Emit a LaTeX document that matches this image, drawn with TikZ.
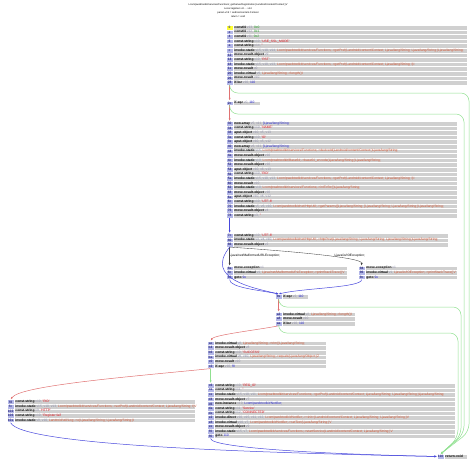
\documentclass[tikz,border=0pt]{standalone}
\usepackage{fontspec}
\setmainfont{Liberation Sans}
\usetikzlibrary{calc,arrows.meta}
\definecolor{rowgray}{HTML}{D0D0D0}
\definecolor{idxblue}{HTML}{B4B8E8}
\definecolor{idxtext}{HTML}{26267A}
\definecolor{hlyellow}{HTML}{FFFF33}
\definecolor{regx}{HTML}{8A8AA6}
\definecolor{strx}{HTML}{E01018}
\definecolor{methx}{HTML}{D2502C}
\definecolor{litx}{HTML}{22A022}
\definecolor{typx}{HTML}{2424D0}
\definecolor{edgegreen}{HTML}{90E090}
\definecolor{edgered}{HTML}{E07272}
\definecolor{edgeblue}{HTML}{4848DC}
\newcommand{\cfgfont}{\fontsize{3.3}{3.6}\selectfont}
\newcommand{\cop}[1]{\textbf{#1}}
\newcommand{\creg}[1]{\textcolor{regx}{#1}}
\newcommand{\clit}[1]{\textcolor{litx}{#1}}
\newcommand{\cstr}[1]{\textcolor{strx}{#1}}
\newcommand{\cmeth}[1]{\textcolor{methx}{#1}}
\newcommand{\ctyp}[1]{\textcolor{typx}{#1}}
\newcommand{\ctgt}[1]{\textcolor{typx}{#1}}
\tikzset{
  idxcell/.style={fill=idxblue,draw=white,line width=0.3pt,minimum width=7pt,minimum height=4.6pt,
    inner sep=0pt,font=\cfgfont\bfseries,text=idxtext,anchor=north west},
  codecell/.style={fill=rowgray,draw=white,line width=0.3pt,inner xsep=1pt,inner ysep=0pt,
    minimum height=4.6pt,text height=2.4pt,text depth=0.7pt,font=\cfgfont,anchor=north west},
  titlenode/.style={align=center,font=\fontsize{2.5}{3.9}\selectfont,inner sep=0pt},
  exclabel/.style={font=\fontsize{3.2}{3.5}\selectfont,inner sep=0.5pt,anchor=west},
  cfgedge/.style={-{Latex[length=2.6pt,width=2pt]},line width=0.5pt},
  tedge/.style={cfgedge,edgegreen},
  fedge/.style={cfgedge,edgered},
  uedge/.style={cfgedge,edgeblue},
  xedge/.style={cfgedge,black!75,line width=0.35pt}
}
% one basic block: name, left x, top y, width, rows index/text
\newcommand{\cfgblock}[5]{%
  \pgfmathsetmacro{\cw}{#4-9}
  \foreach [count=\n] \ix/\tx in {#5}{
    \node[idxcell] (#1-\n) at (#2,{-#3-(\n-1)*4.6}) {\ix};
    \node[codecell] (#1-\n-code) at (#1-\n.north east) {\makebox[\cw pt][l]{\tx}};
  }
}

\begin{document}
\begin{tikzpicture}[x=1pt,y=1pt]
\useasboundingbox (0,0) rectangle (474,-467);
\node[titlenode] (title) at (238,-10.9) {Lcom/pwebtoolkit/services/Functions; getServerRegistration (Landroid/content/Context;)V\\
  Local registers v0 ... v14\\ param v15 = android.content.Context\\ return = void};

% basic blocks
\cfgblock{b1}{226}{25}{241}{
  0/{\cop{const/4} \creg{v13,} \clit{0x0}},
  2/{\cop{const/4} \creg{v12,} \clit{0x1}},
  4/{\cop{const/4} \creg{v11,} \clit{0x2}},
  6/{\cop{const-string} \creg{v10,} \cstr{'USE\_SSL\_MODE'}},
  a/{\cop{const-string} \creg{v14,} \cstr{''}},
  c/{\cop{invoke-static} \creg{v15, v10, v14,} \cmeth{Lcom/pwebtoolkit/services/Functions;->getPref(Landroid/content/Context; Ljava/lang/String; Ljava/lang/String;)Ljava/lang/String;}},
  12/{\cop{move-result-object} \creg{v9}},
  14/{\cop{const-string} \creg{v10,} \cstr{'RST'}},
  18/{\cop{invoke-static} \creg{v15, v10, v13,} \cmeth{Lcom/pwebtoolkit/services/Functions;->getPref(Landroid/content/Context; Ljava/lang/String; I)I}},
  1e/{\cop{move-result} \creg{v0}},
  20/{\cop{invoke-virtual} \creg{v9,} \cmeth{Ljava/lang/String;->length()I}},
  26/{\cop{move-result} \creg{v10}},
  28/{\cop{if-lez} \creg{v10,} \ctgt{110}}}
\node[idxcell,fill=hlyellow] (b1-first) at (b1-1.north west) {0};
\cfgblock{b2}{226}{100.5}{34}{
  2c/{\cop{if-eqz} \creg{v0,} \ctgt{110}}}
\cfgblock{b3}{226}{121}{231}{
  30/{\cop{new-array} \creg{v5, v11,} \ctyp{[Ljava/lang/String;}},
  34/{\cop{const-string} \creg{v10,} \cstr{'NAME'}},
  38/{\cop{aput-object} \creg{v10, v5, v13}},
  3a/{\cop{const-string} \creg{v10,} \cstr{'ID'}},
  3e/{\cop{aput-object} \creg{v10, v5, v12}},
  40/{\cop{new-array} \creg{v6, v11,} \ctyp{[Ljava/lang/String;}},
  44/{\cop{invoke-static} \creg{v15,} \cmeth{Lcom/pwebtoolkit/services/Functions;->deviceId(Landroid/content/Context;)Ljava/lang/String;}},
  4a/{\cop{move-result-object} \creg{v10}},
  4c/{\cop{invoke-static} \creg{v10,} \cmeth{Lcom/pwebtoolkit/Base64;->base64\_encode(Ljava/lang/String;)Ljava/lang/String;}},
  52/{\cop{move-result-object} \creg{v10}},
  54/{\cop{aput-object} \creg{v10, v6, v13}},
  56/{\cop{const-string} \creg{v10,} \cstr{'RID'}},
  5a/{\cop{invoke-static} \creg{v15, v10, v13,} \cmeth{Lcom/pwebtoolkit/services/Functions;->getPref(Landroid/content/Context; Ljava/lang/String; I)I}},
  60/{\cop{move-result} \creg{v10}},
  62/{\cop{invoke-static} \creg{v10,} \cmeth{Lcom/pwebtoolkit/services/Functions;->intToStr(I)Ljava/lang/String;}},
  68/{\cop{move-result-object} \creg{v10}},
  6a/{\cop{aput-object} \creg{v10, v6, v12}},
  6c/{\cop{const-string} \creg{v10,} \cstr{'UTF-8'}},
  70/{\cop{invoke-static} \creg{v5, v6, v10,} \cmeth{Lcom/pwebtoolkit/net/HttpUtil;->getParams([Ljava/lang/String; [Ljava/lang/String; Ljava/lang/String;)Ljava/lang/String;}},
  76/{\cop{move-result-object} \creg{v4}},
  78/{\cop{const-string} \creg{v3,} \cstr{''}}}
\cfgblock{b4}{226}{233}{222}{
  7c/{\cop{const-string} \creg{v10,} \cstr{'UTF-8'}},
  80/{\cop{invoke-static} \creg{v3, v4, v10,} \cmeth{Lcom/pwebtoolkit/net/HttpUtil;->httpPost(Ljava/lang/String; Ljava/lang/String; Ljava/lang/String;)Ljava/lang/String;}},
  86/{\cop{move-result-object} \creg{v2}}}
\cfgblock{bmal}{226}{265.5}{121}{
  8a/{\cop{move-exception} \creg{v1}},
  8c/{\cop{invoke-virtual} \creg{v1,} \cmeth{Ljava/net/MalformedURLException;->printStackTrace()V}},
  92/{\cop{goto} \ctgt{9e}}}
\cfgblock{bio}{358}{265.5}{99}{
  94/{\cop{move-exception} \creg{v1}},
  96/{\cop{invoke-virtual} \creg{v1,} \cmeth{Ljava/io/IOException;->printStackTrace()V}},
  9c/{\cop{goto} \ctgt{9e}}}
\cfgblock{b9c}{275}{294}{33}{
  9e/{\cop{if-eqz} \creg{v2,} \ctgt{110}}}
\cfgblock{b94}{275}{311.7}{80}{
  a2/{\cop{invoke-virtual} \creg{v2,} \cmeth{Ljava/lang/String;->length()I}},
  a8/{\cop{move-result} \creg{v10}},
  aa/{\cop{if-lez} \creg{v10,} \ctgt{110}}}
\cfgblock{blm}{207}{340.7}{119}{
  ae/{\cop{invoke-virtual} \creg{v2,} \cmeth{Ljava/lang/String;->trim()Ljava/lang/String;}},
  b4/{\cop{move-result-object} \creg{v8}},
  b6/{\cop{const-string} \creg{v10,} \cstr{'SUCCESS'}},
  ba/{\cop{invoke-virtual} \creg{v8, v10,} \cmeth{Ljava/lang/String;->equals(Ljava/lang/Object;)Z}},
  c0/{\cop{move-result} \creg{v10}},
  c2/{\cop{if-eqz} \creg{v10,} \ctgt{f8}}}
\cfgblock{bbr}{207}{383}{248}{
  c6/{\cop{const-string} \creg{v10,} \cstr{'REG\_ID'}},
  ca/{\cop{const-string} \creg{v11,} \cstr{''}},
  ce/{\cop{invoke-static} \creg{v15, v10, v11,} \cmeth{Lcom/pwebtoolkit/services/Functions;->getPref(Landroid/content/Context; Ljava/lang/String; Ljava/lang/String;)Ljava/lang/String;}},
  d4/{\cop{move-result-object} \creg{v7}},
  d6/{\cop{new-instance} \creg{v10,} \ctyp{Lcom/pwebtoolkit/Notifier;}},
  da/{\cop{const-string} \creg{v11,} \cstr{'Service'}},
  de/{\cop{const-string} \creg{v12,} \cstr{'CONNECTED'}},
  e2/{\cop{invoke-direct} \creg{v10, v15, v11, v12,} \cmeth{Lcom/pwebtoolkit/Notifier;-><init>(Landroid/content/Context; Ljava/lang/String; Ljava/lang/String;)V}},
  e8/{\cop{invoke-virtual} \creg{v10, v7,} \cmeth{Lcom/pwebtoolkit/Notifier;->setText(Ljava/lang/String;)V}},
  ee/{\cop{move-result-object} \creg{v9}},
  f0/{\cop{invoke-static} \creg{v15, v7,} \cmeth{Lcom/pwebtoolkit/services/Functions;->startService(Landroid/content/Context; Ljava/lang/String;)V}},
  f6/{\cop{goto} \ctgt{110}}}
\cfgblock{bbl}{7}{399.4}{188}{
  f8/{\cop{const-string} \creg{v10,} \cstr{'RID'}},
  fc/{\cop{invoke-static} \creg{v15, v10, v13,} \cmeth{Lcom/pwebtoolkit/services/Functions;->setPref(Landroid/content/Context; Ljava/lang/String; I)V}},
  102/{\cop{const-string} \creg{v9,} \cstr{'HTTP'}},
  106/{\cop{const-string} \creg{v10,} \cstr{'Register fail'}},
  10a/{\cop{invoke-static} \creg{v9, v10,} \cmeth{Landroid/util/Log;->e(Ljava/lang/String; Ljava/lang/String;)I}}}
\cfgblock{bret}{437}{454}{30}{
  110/{\cop{return-void}}}

% exception labels
\node[exclabel] (lblmal) at (229,-256) {Ljava/net/MalformedURLException;};
\node[exclabel] (lblio) at (334,-256) {Ljava/io/IOException;};

% edges
\draw[fedge] (b1-13.south) -- (b2-1.north);
\draw[fedge] (b2-1.south) -- (b3-1.north);
\draw[uedge] (b3-21.south) -- (b4-1.north);
\draw[xedge] (b4-3.south) -- (bmal-1.north);
\draw[xedge] (b4-3.south) .. controls +(60,-4) and +(0,8) .. (bio-1.north);
\draw[uedge] (b4-3.south) .. controls +(-26,-32) and +(-25,6) .. (b9c-1.north);
\draw[uedge] (bmal-3.south) .. controls +(0,-8) and +(-20,4) .. (b9c-1.north);
\draw[uedge] (bio-3.south) .. controls +(0,-8) and +(25,6) .. (b9c-1.north);
\draw[fedge] (b9c-1.south) -- (b94-1.north);
\draw[fedge] (b94-3.south) .. controls +(-20,-4) and +(4,6) .. (blm-1.north);
\draw[tedge] (blm-6.south) -- (bbr-1.north);
\draw[fedge] (blm-6.south) .. controls +(-80,-8) and +(10,14) .. (bbl-1.north);
\draw[uedge] (bbl-5.south) .. controls +(10,-22) and +(-200,4) .. (bret-1.west);
\draw[uedge] (bbr-12.south) .. controls +(0,-10) and +(-100,2) .. (bret-1.west);

% green branches to the return block
\coordinate (g1t) at (469,-93);  \coordinate (g1b) at (469,-432);
\coordinate (g2t) at (464,-114); \coordinate (g2b) at (464,-434);
\coordinate (g3t) at (461,-307); \coordinate (g3b) at (461,-436);
\coordinate (g4t) at (458,-333); \coordinate (g4b) at (458,-438);
\draw[tedge,rounded corners=8pt] (b1-13.south) |- (g1t) -- (g1b) -- (bret-1.north);
\draw[tedge,rounded corners=8pt] (b2-1.south) |- (g2t) -- (g2b) -- (bret-1.north);
\draw[tedge,rounded corners=8pt] (b9c-1.south) |- (g3t) -- (g3b) -- (bret-1.north);
\draw[tedge,rounded corners=8pt] (b94-3.south) |- (g4t) -- (g4b) -- (bret-1.north);
\end{tikzpicture}
\end{document}
